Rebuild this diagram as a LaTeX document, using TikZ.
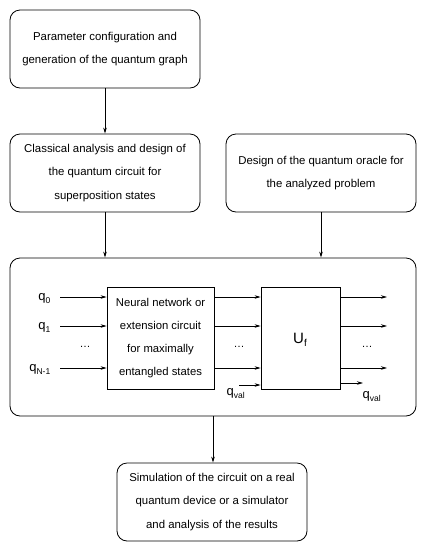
\documentclass[tikz,border=0pt]{standalone}
\usepackage{fontspec}
\setmainfont{Liberation Sans}
\usetikzlibrary{arrows.meta}
\newcommand{\qsub}[1]{\raisebox{-3pt}{\fontsize{8.5}{9}\selectfont #1}}
\begin{document}
\begin{tikzpicture}[x=1pt,y=-1pt,
  rbox/.style={draw,line width=0.8pt,rounded corners=10pt,align=center,inner sep=0pt,
    font=\fontsize{11.4}{23.5}\selectfont},
  sbox/.style={draw,line width=0.8pt,align=center,inner sep=0pt,
    font=\fontsize{11.3}{23}\selectfont},
  arr/.style={line width=0.8pt,-{Stealth[length=6pt,width=3.5pt]}},
  qlab/.style={font=\fontsize{13}{14}\selectfont,inner sep=0pt},
  dots/.style={font=\fontsize{11}{12}\selectfont,inner sep=0pt}]
\useasboundingbox (0,0) rectangle (424,550);
\node[rbox,minimum width=190pt,minimum height=78pt] (b1) at (105,49)
  {Parameter configuration and\\generation of the quantum graph};
\node[rbox,minimum width=190pt,minimum height=78pt] (b2) at (105,173)
  {Classical analysis and design of\\the quantum circuit for\\superposition states};
\node[rbox,minimum width=190pt,minimum height=78pt] (b3) at (321,173)
  {Design of the quantum oracle for\\the analyzed problem};
\node[draw,line width=0.8pt,rounded corners=10pt,minimum width=406pt,minimum height=158pt,inner sep=0pt] (big) at (213,337) {};
\node[sbox,minimum width=107pt,minimum height=102pt] (A) at (160.5,338)
  {Neural network or\\extension circuit\\for maximally\\entangled states};
\node[draw,line width=0.8pt,minimum width=79pt,minimum height=102pt,inner sep=0pt] (U) at (300.5,338) {};
\node[font=\fontsize{15}{16}\selectfont,inner sep=0pt] (Ul) at (300,340)
  {U\raisebox{-3.5pt}{\fontsize{10}{10}\selectfont f}};
\node[rbox,minimum width=190pt,minimum height=78pt] (b4) at (212,502)
  {Simulation of the circuit on a real\\quantum device or a simulator\\and analysis of the results};
\draw[arr] (b1) -- (b2);
\draw[arr] (b2.south) -- (b2.south |- big.north);
\draw[arr] (b3.south) -- (b3.south |- big.north);
\draw[arr] (big.south) -- (big.south |- b4.north);
% inputs
\coordinate (i0) at (60,297);
\coordinate (i1) at (60,326);
\coordinate (i2) at (60,368);
\foreach \c in {i0,i1,i2} \draw[arr] (\c) -- (\c -| A.west);
\node[qlab,anchor=base east] (l0) at (50.5,300) {q\qsub{0}};
\node[qlab,anchor=base east] (l1) at (50.5,329) {q\qsub{1}};
\node[qlab,anchor=base east] (l2) at (50.5,371) {q\qsub{N-1}};
\node[dots] (d1) at (85,347) {\dots};
% middle
\foreach \y in {297,326,368} {
  \coordinate (m) at (A.east |- 0,\y);
  \draw[arr] (m) -- (m -| U.west);
}
\node[dots] (d2) at (239,347) {\dots};
\coordinate (qv) at (239,385);
\draw[arr] (qv) -- (qv -| U.west);
\node[qlab,anchor=base west] (lv1) at (226.5,395) {q\qsub{val}};
% outputs
\foreach \y in {297,326,368} {
  \coordinate (o) at (U.east |- 0,\y);
  \coordinate (oe) at (387,\y);
  \draw[arr] (o) -- (oe);
}
\node[dots] (d3) at (367,347) {\dots};
\coordinate (qo) at (U.east |- 0,383);
\coordinate (qoe) at (363,383);
\draw[arr] (qo) -- (qoe);
\node[qlab,anchor=base west] (lv2) at (362.5,398) {q\qsub{val}};
\end{tikzpicture}
\end{document}
